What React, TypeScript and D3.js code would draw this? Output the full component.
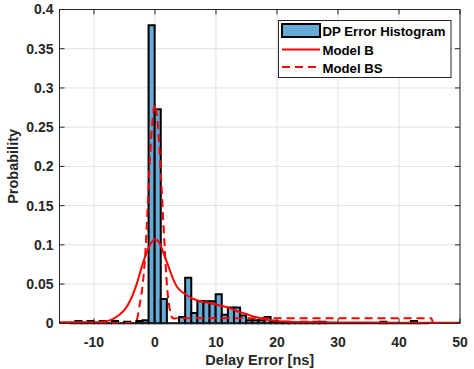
import React from "react";
import * as d3 from "d3";

// Histogram: bin width 1 ns, first left edge -14.05
const binFirstEdge = -14.05;
const binWidth = 1.0;
const binProb = [
  0, 0.003, 0, 0.003, 0, 0.003, 0, 0.003, 0, 0.002, 0, 0.003, 0.004, // -14..-2
  0.38, 0.273, 0.031, 0, 0, 0.008, 0.058, 0.013, 0.028, 0.028, 0.028, // -1..9
  0.037, 0.011, 0.02, 0.02, 0.01, 0.004, 0.004, 0.004, 0.008, 0.002, // 10..19
  0.001, 0.002, 0.001, 0, 0.002, 0, 0.002, 0.002, 0, 0, // 20..29
  0, 0, 0, 0, 0, 0, 0, 0.002, 0, 0, // 30..39
  0, 0, 0.003, 0, 0, // 40..44
];

// Model B (solid)
const modelBX = [-15.65, -12, -10, -9, -8, -7, -6, -5, -4, -3, -2, -1, 0, 0.5, 1, 1.6, 2, 2.5, 3, 3.5, 4, 5, 6, 7, 8, 9, 10, 11, 12, 13, 14, 15, 16, 17, 18, 19, 20, 22, 25, 30, 40, 50];
const modelBY = [0.0012, 0.0012, 0.0013, 0.0016, 0.0025, 0.005, 0.01, 0.017, 0.03, 0.05, 0.076, 0.097, 0.107, 0.105, 0.098, 0.085, 0.077, 0.066, 0.056, 0.048, 0.043, 0.037, 0.032, 0.029, 0.027, 0.026, 0.024, 0.022, 0.02, 0.017, 0.014, 0.012, 0.009, 0.007, 0.005, 0.004, 0.003, 0.002, 0.0015, 0.001, 0.0008, 0.0006];

// Model BS (dashed)
const modelBSX = [-15.65, -4, -3.3, -3, -2.5, -2, -1.5, -1, -0.5, 0, 0.5, 1, 1.5, 2, 2.5, 3, 3.5, 10, 20, 30, 40, 45.3, 45.6, 50];
const modelBSY = [0.0005, 0.0005, 0.002, 0.004, 0.024, 0.05, 0.1, 0.182, 0.25, 0.279, 0.25, 0.185, 0.11, 0.045, 0.015, 0.006, 0.0065, 0.0065, 0.0065, 0.0065, 0.0065, 0.0065, 0.0005, 0.0005];

const xTicks = [-10, 0, 10, 20, 30, 40, 50];
const yTicks = [0, 0.05, 0.1, 0.15, 0.2, 0.25, 0.3, 0.35, 0.4];
const legendLabels = ["DP Error Histogram", "Model B", "Model BS"];

const W = 474;
const H = 369;
const L = 59.5, R = 460, T = 9.5, B = 323.3;
const axisColor = "#262626";
const font = "'Liberation Sans', Arial, sans-serif";
const barFill = "#66AAD7";
const red = "#FF0000";

export default function App() {
  const x = d3.scaleLinear().domain([-15.65, 50]).range([L, R]);
  const y = d3.scaleLinear().domain([0, 0.4]).range([B, T]);

  const line = d3
    .line<[number, number]>()
    .x((d) => x(d[0]))
    .y((d) => y(d[1]))
    .curve(d3.curveMonotoneX);

  const bPts: [number, number][] = modelBX.map((v, i) => [v, modelBY[i]]);
  const bsPts: [number, number][] = modelBSX.map((v, i) => [v, modelBSY[i]]);

  const bars = binProb.map((p, i) => {
    const x0 = x(binFirstEdge + i * binWidth);
    const x1 = x(binFirstEdge + (i + 1) * binWidth);
    const y0 = y(0);
    const y1 = y(p);
    return `M${x0},${y0}V${y1}H${x1}V${y0}Z`;
  });

  const tickLen = 5;

  return (
    <svg
      width={W}
      height={H}
      style={{ position: "absolute", left: 0, top: 0, background: "#fff" }}
      fontFamily={font}
    >
      <rect x={0} y={0} width={W} height={H} fill="#fff" />
      {/* grid */}
      <g stroke="#e1e1e1" strokeWidth={1}>
        {xTicks.map((t) => (
          <line key={"gx" + t} x1={x(t)} x2={x(t)} y1={T} y2={B} />
        ))}
        {yTicks.map((t) => (
          <line key={"gy" + t} x1={L} x2={R} y1={y(t)} y2={y(t)} />
        ))}
      </g>
      {/* histogram */}
      <g fill={barFill} stroke="#000" strokeWidth={2} strokeLinejoin="miter">
        {bars.map((d, i) => (
          <path key={i} d={d} />
        ))}
      </g>
      {/* models */}
      <path d={line(bPts) || ""} fill="none" stroke={red} strokeWidth={2} />
      <path
        d={line(bsPts) || ""}
        fill="none"
        stroke={red}
        strokeWidth={2}
        strokeDasharray="8,5"
      />
      {/* axes box */}
      <rect x={L} y={T} width={R - L} height={B - T} fill="none" stroke={axisColor} strokeWidth={1} />
      <g stroke={axisColor} strokeWidth={1}>
        {xTicks.map((t) => (
          <g key={"tx" + t}>
            <line x1={x(t)} x2={x(t)} y1={B} y2={B - tickLen} />
            <line x1={x(t)} x2={x(t)} y1={T} y2={T + tickLen} />
          </g>
        ))}
        {yTicks.map((t) => (
          <g key={"ty" + t}>
            <line x1={L} x2={L + tickLen} y1={y(t)} y2={y(t)} />
            <line x1={R} x2={R - tickLen} y1={y(t)} y2={y(t)} />
          </g>
        ))}
      </g>
      {/* tick labels */}
      <g fill={axisColor} fontWeight="bold" fontSize={14}>
        {xTicks.map((t) => (
          <text key={"lx" + t} x={x(t)} y={346.5} textAnchor="middle">
            {String(t)}
          </text>
        ))}
        {yTicks.map((t) => (
          <text key={"ly" + t} x={53.5} y={y(t)} dy="0.35em" textAnchor="end">
            {String(t)}
          </text>
        ))}
      </g>
      {/* axis labels */}
      <text
        x={(L + R) / 2}
        y={365}
        textAnchor="middle"
        fontWeight="bold"
        fontSize={14.5}
        fill={axisColor}
      >
        Delay Error [ns]
      </text>
      <text
        transform={`translate(13,${(T + B) / 2}) rotate(-90)`}
        textAnchor="middle"
        dy="0.35em"
        fontWeight="bold"
        fontSize={14.5}
        fill={axisColor}
      >
        Probability
      </text>
      {/* legend */}
      <g>
        <rect x={278.5} y={20.5} width={172.5} height={57} fill="#fff" stroke={axisColor} strokeWidth={1} />
        <rect x={282} y={24} width={38} height={13} fill={barFill} stroke="#000" strokeWidth={2} />
        <line x1={282} x2={320} y1={49.5} y2={49.5} stroke={red} strokeWidth={2} />
        <line x1={282} x2={320} y1={67} y2={67} stroke={red} strokeWidth={2} strokeDasharray="8,5" />
        {legendLabels.map((s, i) => (
          <text
            key={s}
            x={322.5}
            y={[31, 50, 68][i]}
            dy="0.35em"
            fontWeight="bold"
            fontSize={13.2}
            fill="#000"
          >
            {s}
          </text>
        ))}
      </g>
    </svg>
  );
}
